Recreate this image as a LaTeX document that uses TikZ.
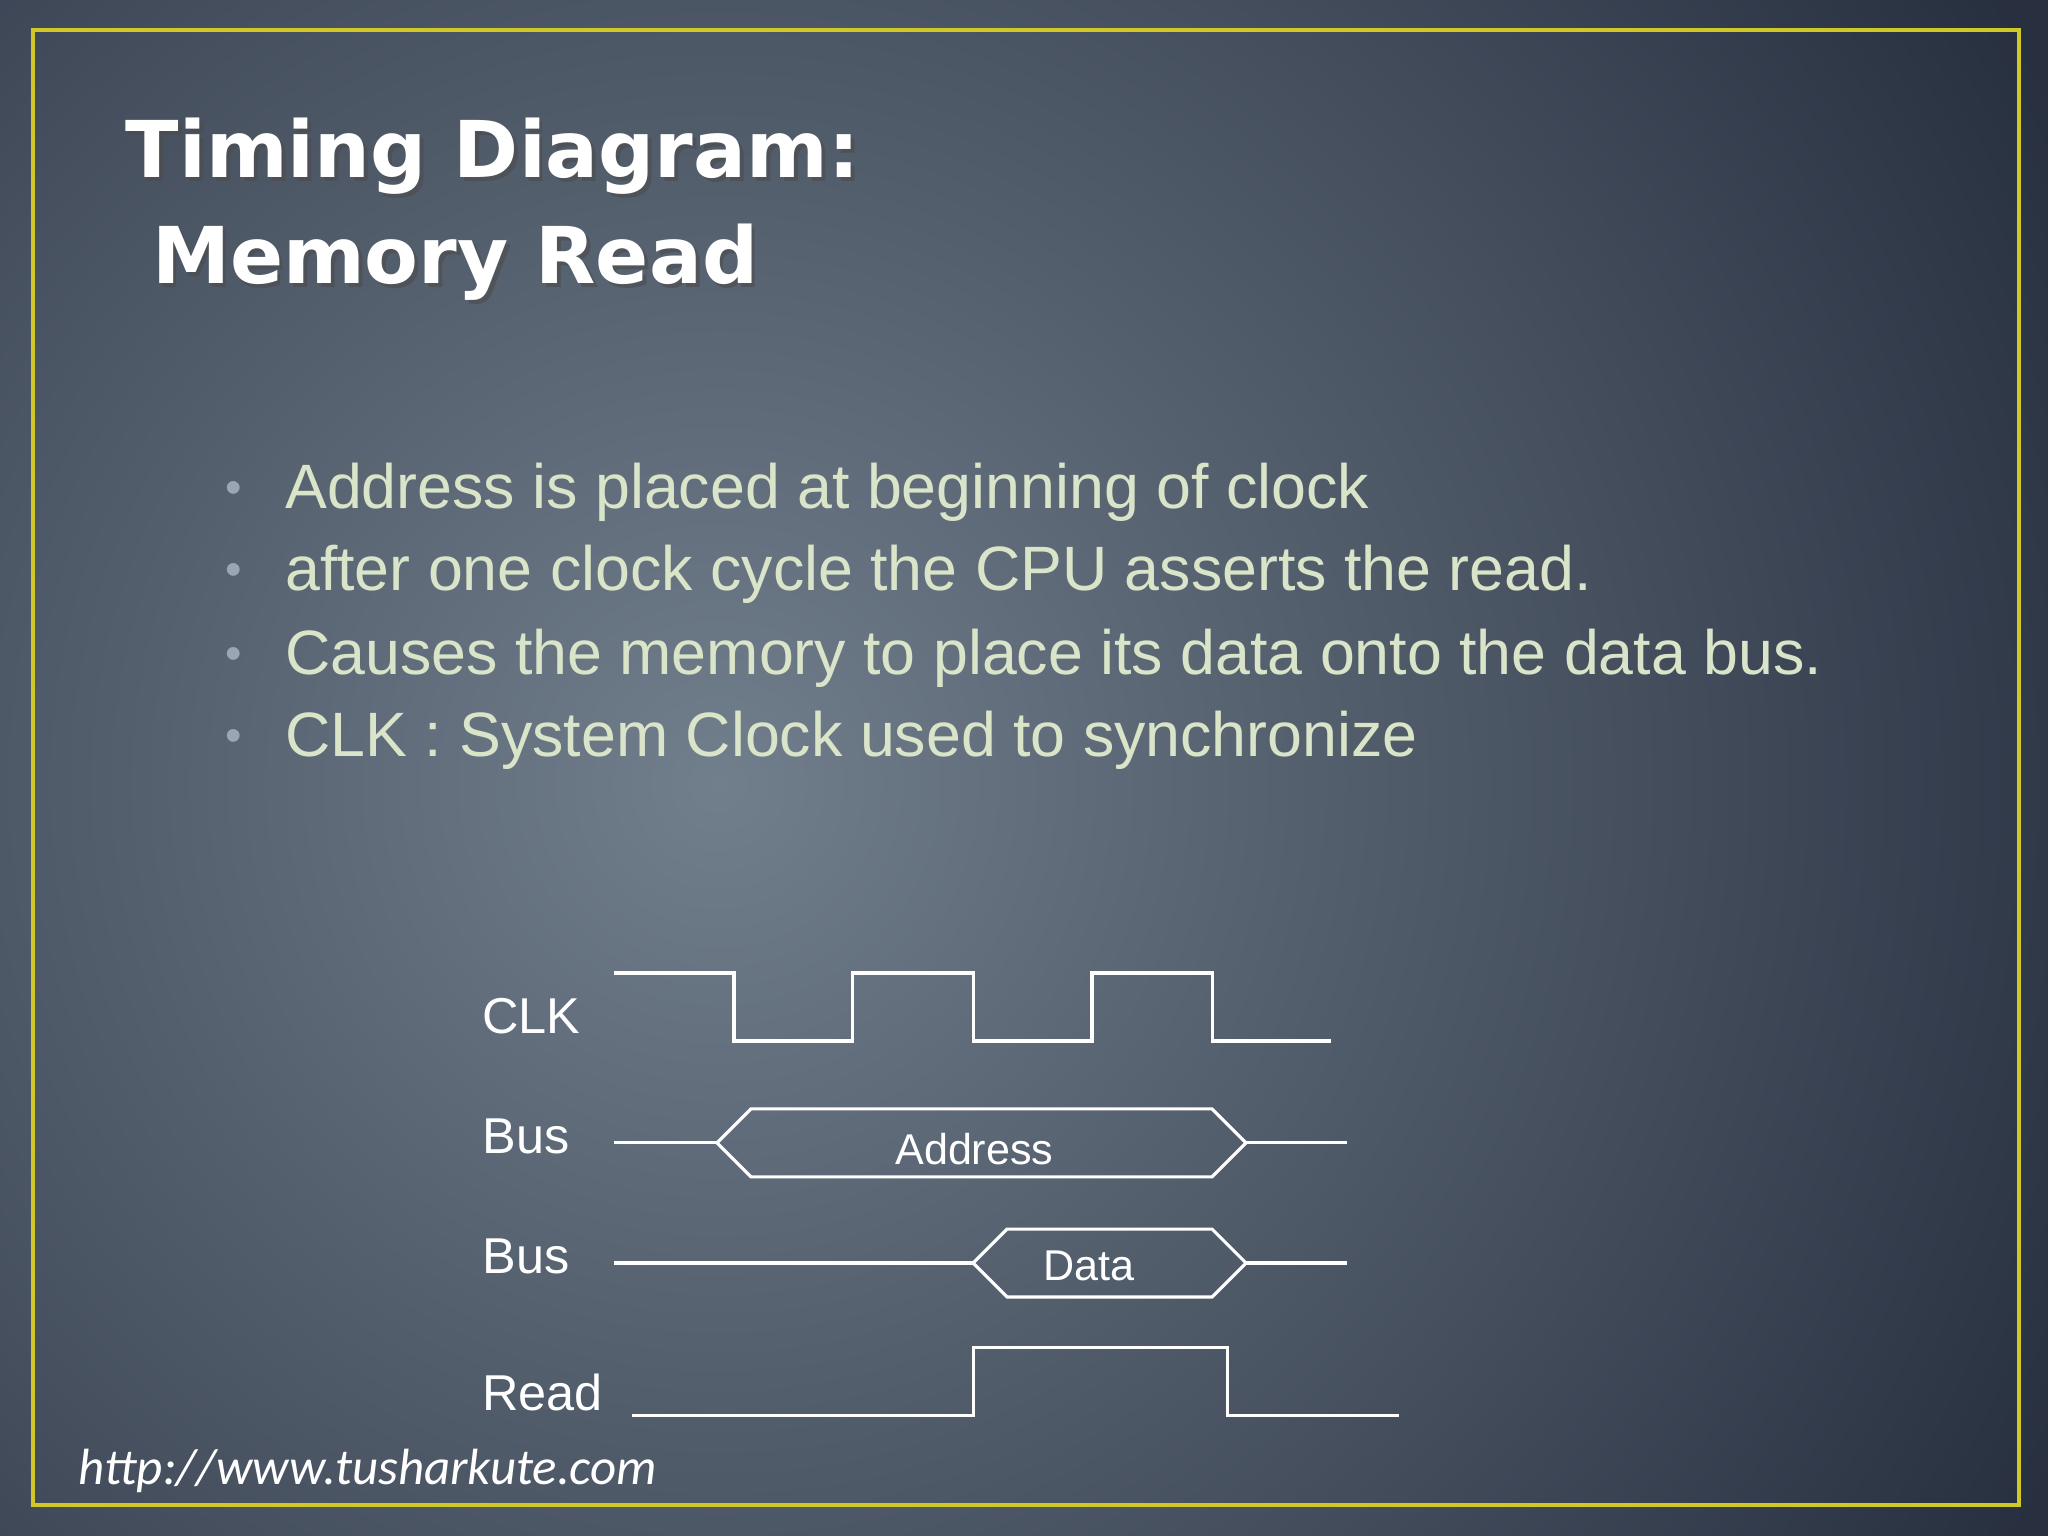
\documentclass[tikz,border=0pt]{standalone}
\usepackage{fontspec}
\setmainfont{Liberation Sans}
\newfontfamily\titlefont{DejaVu Sans}
\newfontfamily\urlfont{Carlito}
\definecolor{bgin}{HTML}{717E8C}
\definecolor{bgout}{HTML}{283040}
\definecolor{frame}{HTML}{D0C828}
\definecolor{bullettxt}{HTML}{D9E4C9}
\definecolor{bulletdot}{HTML}{9AA6B2}
\tikzset{
  sig/.style={draw=white, line width=1.2pt},
  lbl/.style={anchor=west, text=white, font=\fontsize{19.3}{21}\selectfont, inner sep=0pt},
  btxt/.style={anchor=west, text=bullettxt, font=\fontsize{24}{26}\selectfont, inner sep=0pt},
  bdot/.style={anchor=center, text=bulletdot, font=\fontsize{18}{20}\selectfont, inner sep=0pt},
  ttl/.style={anchor=base west, text=white, font=\titlefont\bfseries\fontsize{30}{36}\selectfont, inner sep=0pt}
}
\begin{document}
\begin{tikzpicture}[x=0.5pt,y=-0.5pt]
\useasboundingbox (0,0) rectangle (1568,1176);
\fill[bgout] (0,0) rectangle (1568,1176);
\shade[inner color=bgin, outer color=bgout] (-600,-550) rectangle (1700,1750);
\draw[frame, line width=1.6pt] (25,23) rectangle (1546,1152);
% title
\node[ttl, text=black!70, opacity=0.6] at (99,139) {Timing Diagram:};
\node[ttl] (t1) at (96,136) {Timing Diagram:};
\node[ttl, text=black!70, opacity=0.6] at (119,220) {Memory Read};
\node[ttl] (t2) at (116,217) {Memory Read};
% bullets
\foreach \y/\t [count=\i] in {377/Address is placed at beginning of clock,440/after one clock cycle the CPU asserts the read.,504/Causes the memory to place its data onto the data bus.,567/CLK : System Clock used to synchronize}{
  \node[bdot] (d\i) at (179,\y) {•};
  \node[btxt] (b\i) at (218,\y) {\t};
}
% labels
\node[lbl] (lclk) at (369,778) {CLK};
\node[lbl] (lbus1) at (369,870) {Bus};
\node[lbl] (lbus2) at (369,962) {Bus};
\node[lbl] (lread) at (369,1066) {Read};
% CLK
\draw[sig] (470,745) -- (562,745) -- (562,797) -- (653,797) -- (653,745) -- (745,745) -- (745,797) -- (836,797) -- (836,745) -- (928,745) -- (928,797) -- (1019,797);
% Address bus
\draw[sig] (470,875) -- (549,875);
\draw[sig] (549,875) -- (575,849) -- (928,849) -- (954,875) -- (928,901) -- (575,901) -- cycle;
\draw[sig] (954,875) -- (1031,875);
\node[text=white, font=\fontsize{16.5}{18}\selectfont, inner sep=0pt] (addr) at (746,880) {Address};
% Data bus
\draw[sig] (470,967) -- (745,967);
\draw[sig] (745,967) -- (771,941) -- (928,941) -- (954,967) -- (928,993) -- (771,993) -- cycle;
\draw[sig] (954,967) -- (1031,967);
\node[text=white, font=\fontsize{16.5}{18}\selectfont, inner sep=0pt] (data) at (834,969) {Data};
% Read
\draw[sig] (484,1084) -- (745,1084) -- (745,1032) -- (940,1032) -- (940,1084) -- (1071,1084);
% url
\node[anchor=west, text=white, font=\urlfont\itshape\fontsize{19.5}{21}\selectfont, inner sep=0pt] (url) at (60,1126) {http://www.tusharkute.com};
\end{tikzpicture}
\end{document}
